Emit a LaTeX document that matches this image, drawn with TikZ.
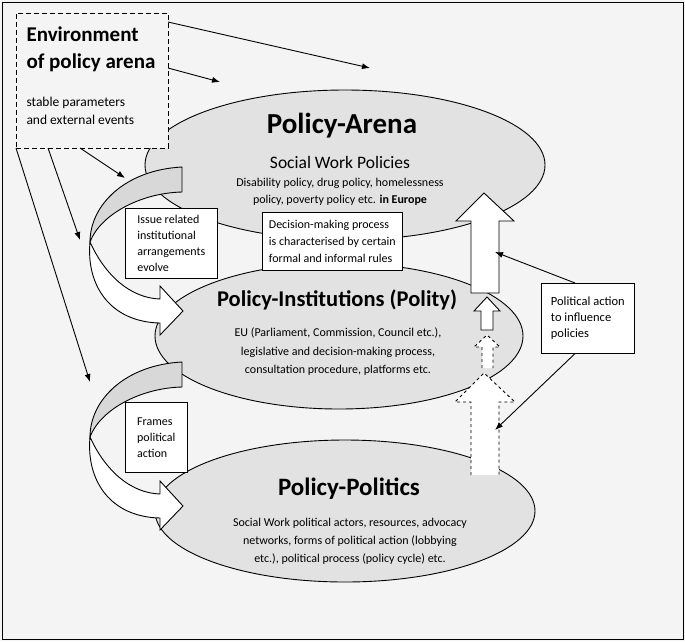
\documentclass[tikz,border=0pt]{standalone}
\usepackage{fontspec}
\setmainfont{Carlito}
\usetikzlibrary{arrows.meta,shapes.geometric}
\definecolor{bg}{HTML}{F4F4F4}
\definecolor{ell}{HTML}{E2E2E2}
\definecolor{band}{HTML}{D8D8D8}
\begin{document}
\begin{tikzpicture}[x=1pt,y=-1pt,
  ellip/.style={draw,fill=ell,line width=0.9pt},
  lbl/.style={draw,fill=white,line width=0.6pt,align=left,font=\fontsize{12}{16}\selectfont,inner sep=5pt,anchor=north west},
  env/.style={-{Latex[length=8pt,width=6pt]},line width=0.9pt},
  body/.style={align=center,font=\fontsize{12}{17}\selectfont},
  bigarrow/.style={draw,fill=white,line width=0.9pt,line join=miter}]
\useasboundingbox (0,0) rectangle (685,641);
\fill[bg] (0,0) rectangle (685,641);
\draw[line width=0.6pt] (2,2) rectangle (683,639);
% ellipses
\node[ellip,ellipse,minimum width=400pt,minimum height=150pt,inner sep=0] (arena) at (345,165) {};
\node[ellip,ellipse,minimum width=368pt,minimum height=146pt,inner sep=0] (polity) at (339,336) {};
\node[ellip,ellipse,minimum width=380pt,minimum height=142pt,inner sep=0] (politics) at (345,511) {};
\node[font=\bfseries\fontsize{29}{33}\selectfont] (t1) at (342,126) {Policy-Arena};
\node[font=\fontsize{17.5}{20}\selectfont] (s1) at (340,162) {Social Work Policies};
\node[body] (b1) at (340,192) {Disability policy, drug policy, homelessness\\policy, poverty policy etc. \textbf{in Europe}};
\node[font=\bfseries\fontsize{22.5}{26}\selectfont] (t2) at (337,300) {Policy-Institutions (Polity)};
\node[body,font=\fontsize{12}{18.5}\selectfont] (b2) at (338,352) {EU (Parliament, Commission, Council etc.),\\legislative and decision-making process,\\consultation procedure, platforms etc.};
\node[font=\bfseries\fontsize{25}{29}\selectfont] (t3) at (349,489) {Policy-Politics};
\node[body,font=\fontsize{12}{18}\selectfont] (b3) at (350,541) {Social Work political actors, resources, advocacy\\networks, forms of political action (lobbying\\etc.), political process (policy cycle) etc.};
% curved arrows
\foreach \dy in {0,195}{
\begin{scope}[yshift=-\dy pt]
\filldraw[fill=band,line width=0.9pt] (182,167) .. controls (125,170) and (90,205) .. (90,242) .. controls (100,215) and (140,193) .. (182,192) -- cycle;
\filldraw[fill=white,line width=0.9pt,line join=miter] (90,242) .. controls (105,275) and (130,298) .. (160,299) -- (160,286) -- (183,311) -- (160,335) -- (160,323) .. controls (110,322) and (86,285) .. (90,242) -- cycle;
\end{scope}}
% environment box
\node[draw,dash pattern=on 5pt off 3pt,fill=bg,line width=0.7pt,minimum width=152pt,minimum height=135pt,anchor=north west] (envbox) at (16,13) {};
\node[font=\bfseries\fontsize{21}{27}\selectfont,align=left,anchor=north west] (envt) at (23,23) {Environment\\of policy arena};
\node[font=\fontsize{13.5}{18}\selectfont,align=left,anchor=north west] (envs) at (23,94) {stable parameters\\and external events};
\coordinate (e1) at (168,22); \coordinate (e1e) at (370,68);
\coordinate (e2) at (168,68); \coordinate (e2e) at (220,82);
\coordinate (e3) at (80,148); \coordinate (e3e) at (125,178);
\coordinate (e4) at (48,148); \coordinate (e4e) at (80,240);
\coordinate (e5) at (16,148); \coordinate (e5e) at (90,382);
\draw[env] (e1) -- (e1e);
\draw[env] (e2) -- (e2e);
\draw[env] (e3) -- (e3e);
\draw[env] (e4) -- (e4e);
\draw[env] (e5) -- (e5e);
% labels
\node[lbl,minimum width=92pt,minimum height=70pt] (issue) at (125,208) {Issue related\\institutional\\arrangements\\evolve};
\node[lbl,minimum width=62pt,minimum height=70pt] (frames) at (125,402) {Frames\\political\\action};
\node[lbl,align=left,minimum width=140pt,minimum height=58pt,font=\fontsize{12}{17}\selectfont] (dec) at (262,212) {Decision-making process\\is characterised by certain\\formal and informal rules};
% up arrows
\draw[bigarrow] (471,293) -- (471,221) -- (456,221) -- (484,193) -- (514,221) -- (499,221) -- (499,293) -- cycle;
\draw[bigarrow] (481,330) -- (481,311) -- (474,311) -- (487,297) -- (500,311) -- (493,311) -- (493,330) -- cycle;
\draw[bigarrow,dashed] (482,368) -- (482,347) -- (474,347) -- (487,335) -- (500,347) -- (493,347) -- (493,368);
\draw[bigarrow,dashed] (471,475) -- (471,402) -- (455,402) -- (484,373) -- (515,402) -- (499,402) -- (499,475);
\node[lbl,minimum width=93pt,minimum height=70pt,font=\fontsize{12.5}{16}\selectfont] (pa) at (541,283) {Political action\\to influence\\policies};
\coordinate (a1) at (495,252); \coordinate (a2) at (495,430);
\draw[env] (pa.north west) ++(34,0) -- (a1);
\draw[env] (pa.south west) ++(34,0) -- (a2);
\end{tikzpicture}
\end{document}
